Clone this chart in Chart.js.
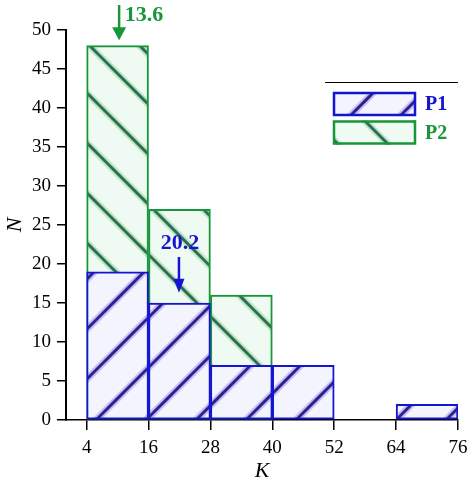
<!DOCTYPE html>
<html>
<head>
<meta charset="utf-8">
<script src="https://cdn.jsdelivr.net/npm/chart.js@4.4.0/dist/chart.umd.min.js"></script>
<style>
  html, body { margin: 0; padding: 0; background: #fff; }
  #wrap { width: 468px; height: 482px; }
</style>
</head>
<body>
<div id="wrap"><canvas id="myChart"></canvas></div>
<script>
// Histogram bins (left edge of each bin, width 12)
const binStarts = [4, 16, 28, 40, 52, 64];
const binWidth = 12;
const p1Counts = [19, 15, 7, 7, 0, 2];
const p2Counts = [48, 27, 16, 0, 0, 0];
const seriesLabels = ['P1', 'P2'];

// Axis ticks
const xTicks = [4, 16, 28, 40, 52, 64, 76];
const yTicks = [0, 5, 10, 15, 20, 25, 30, 35, 40, 45, 50];

// Mean markers: arrow x, arrow top, arrow tip, label x, label y, label text
const markerP2 = [10.3, 53.2, 48.7, 11.4, 51.9, '13.6'];
const markerP1 = [21.9, 20.9, 16.3, 22.1, 22.7, '20.2'];

const SERIF = '"Liberation Serif", "Times New Roman", serif';
const BLUE = '#1414d2';
const GREEN = '#17963a';

// hatch pattern, dir 1 = "/", dir -1 = "\"
function makeHatch(bg, halo, ink, dir, phase) {
  const size = 50;
  const c = document.createElement('canvas');
  c.width = size;
  c.height = size;
  const g = c.getContext('2d');
  g.fillStyle = bg;
  g.fillRect(0, 0, size, size);
  [[7, halo], [3, ink]].forEach(([w, col]) => {
    g.strokeStyle = col;
    g.lineWidth = w;
    for (let k = -2; k <= 2; k++) {
      const o = phase + k * size;
      g.beginPath();
      if (dir > 0) {
        g.moveTo(o + 10, -10);
        g.lineTo(o - size - 10, size + 10);
      } else {
        g.moveTo(o - 10, -10);
        g.lineTo(o + size + 10, size + 10);
      }
      g.stroke();
    }
  });
  return g.createPattern(c, 'repeat');
}

const blueHatch = makeHatch('#f4f4ff', '#c4bdf4', '#2c1f8e', 1, 16);
const greenHatch = makeHatch('#effbf2', '#bfe5ca', '#2f6e4c', -1, 44);

function toPoints(counts) {
  const pts = [];
  counts.forEach((v, i) => {
    if (v > 0) pts.push({ x: binStarts[i] + binWidth / 2, y: v });
  });
  return pts;
}

// arrows + labels for the means
const markerPlugin = {
  id: 'markers',
  afterDatasetsDraw(chart) {
    const { ctx, scales } = chart;
    const draw = (m, color, headW, headH) => {
      const x = scales.x.getPixelForValue(m[0]);
      const y0 = scales.y.getPixelForValue(m[1]);
      const y1 = scales.y.getPixelForValue(m[2]);
      ctx.save();
      ctx.strokeStyle = color;
      ctx.fillStyle = color;
      ctx.lineWidth = 2.5;
      ctx.beginPath();
      ctx.moveTo(x, y0);
      ctx.lineTo(x, y1 - headH + 2);
      ctx.stroke();
      ctx.beginPath();
      ctx.moveTo(x - headW / 2, y1 - headH);
      ctx.lineTo(x + headW / 2, y1 - headH);
      ctx.lineTo(x, y1);
      ctx.closePath();
      ctx.fill();
      ctx.font = 'bold 22px ' + SERIF;
      ctx.textBaseline = 'middle';
      ctx.textAlign = m === markerP2 ? 'left' : 'center';
      ctx.fillText(m[5], scales.x.getPixelForValue(m[3]), scales.y.getPixelForValue(m[4]));
      ctx.restore();
    };
    draw(markerP2, GREEN, 14, 13);
    draw(markerP1, BLUE, 11, 14);
  }
};

// legend box in the upper right
const legendPlugin = {
  id: 'boxLegend',
  afterDraw(chart) {
    const ctx = chart.ctx;
    ctx.save();
    ctx.strokeStyle = '#000';
    ctx.lineWidth = 1;
    ctx.beginPath();
    ctx.moveTo(325, 82.5);
    ctx.lineTo(458, 82.5);
    ctx.stroke();
    chart.data.datasets.forEach((ds, i) => {
      const top = 92 + i * 28.5;
      ctx.fillStyle = ds.backgroundColor;
      ctx.fillRect(333, top, 83, 24);
      ctx.strokeStyle = ds.borderColor;
      ctx.lineWidth = 2.5;
      ctx.strokeRect(334, top + 1, 81, 22);
      ctx.fillStyle = ds.borderColor;
      ctx.font = 'bold 20px ' + SERIF;
      ctx.textBaseline = 'middle';
      ctx.textAlign = 'left';
      ctx.fillText(ds.label, 425, top + 13);
    });
    ctx.restore();
  }
};

const ctx = document.getElementById('myChart').getContext('2d');

const myChart = new Chart(ctx, {
  type: 'bar',
  data: {
    datasets: [{
      label: seriesLabels[0],
      data: toPoints(p1Counts),
      backgroundColor: blueHatch,
      borderColor: BLUE,
      borderWidth: 2,
      borderSkipped: false,
      grouped: false,
      barPercentage: 1,
      categoryPercentage: 1
    }, {
      label: seriesLabels[1],
      data: toPoints(p2Counts),
      backgroundColor: greenHatch,
      borderColor: GREEN,
      borderWidth: 2,
      borderSkipped: false,
      grouped: false,
      barPercentage: 1,
      categoryPercentage: 1
    }]
  },
  options: {
    responsive: true,
    maintainAspectRatio: false,
    animation: false,
    layout: { padding: { top: 30, right: 10, left: 0, bottom: 0 } },
    plugins: {
      legend: { display: false },
      tooltip: { enabled: false }
    },
    scales: {
      x: {
        type: 'linear',
        min: 0,
        max: 76,
        offset: false,
        afterBuildTicks: (scale) => { scale.ticks = xTicks.map(v => ({ value: v })); },
        afterFit: (scale) => {
          scale.height = 62;
          scale.paddingLeft = 0;
          scale.paddingRight = 0;
        },
        border: { color: '#000', width: 1.5 },
        grid: { offset: false, drawOnChartArea: false, tickLength: 10, color: '#000', lineWidth: 1.5 },
        ticks: {
          autoSkip: false,
          maxRotation: 0,
          padding: 7,
          color: '#000',
          font: { family: SERIF, size: 19 }
        },
        title: {
          display: true,
          text: 'K',
          color: '#000',
          padding: { top: 1, bottom: 0 },
          font: { family: SERIF, size: 22, style: 'italic', lineHeight: 1 }
        }
      },
      y: {
        min: 0,
        max: 50,
        afterBuildTicks: (scale) => { scale.ticks = yTicks.map(v => ({ value: v })); },
        afterFit: (scale) => {
          scale.width = 66;
          scale.paddingTop = 0;
          scale.paddingBottom = 0;
        },
        border: { color: '#000', width: 2 },
        grid: { drawOnChartArea: false, tickLength: 9, color: '#000', lineWidth: 1.5 },
        ticks: {
          padding: 6,
          color: '#000',
          font: { family: SERIF, size: 19 }
        },
        title: {
          display: true,
          text: 'N',
          color: '#000',
          padding: { top: 4, bottom: 0 },
          font: { family: SERIF, size: 22, style: 'italic', lineHeight: 1 }
        }
      }
    }
  },
  plugins: [markerPlugin, legendPlugin]
});
</script>
</body>
</html>
